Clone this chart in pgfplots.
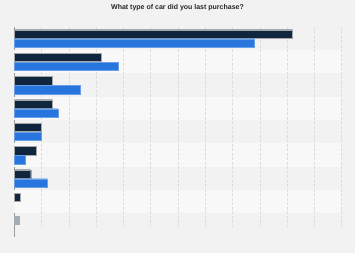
\documentclass[border=0pt]{standalone}
\usepackage{pgfplots}
\pgfplotsset{compat=1.18}
\usepackage{fontspec}
\setmainfont{Liberation Sans}
\definecolor{bgA}{HTML}{F2F2F2}
\definecolor{bgB}{HTML}{F8F8F8}
\definecolor{navy}{HTML}{10263F}
\definecolor{sblue}{HTML}{2876DD}
\definecolor{gridc}{HTML}{DDDDDD}
\definecolor{fadegray}{HTML}{A3ABB3}
\begin{document}
\begin{tikzpicture}[x=1pt,y=1pt]
\fill[bgA] (0,0) rectangle (355,253);
\node[font=\bfseries\fontsize{7}{8}\selectfont, text=black!85] at (177.5,245) {What type of car did you last purchase?};
\begin{axis}[
  at={(14.3pt,16.3pt)}, anchor=south west,
  scale only axis, width=327.4pt, height=210pt,
  xmin=0, xmax=60, ymin=-0.5, ymax=8.5, y dir=reverse,
  xbar, bar width=8.6pt,
  axis x line=none,
  axis y line*=left,
  y axis line style={draw=gray!80, line width=0.8pt, -},
  ytick=\empty, xtick={5,10,...,60},
  clip=false,
]
\pgfplotsinvokeforeach{1,3,5,7}{
  \fill[bgB] (axis cs:0,#1-0.5) rectangle (axis cs:60,#1+0.5);
}
\pgfplotsinvokeforeach{5,10,...,60}{
  \draw[gridc, dash pattern=on 3pt off 1.5pt, line width=0.5pt] (axis cs:#1,-0.5) -- (axis cs:#1,8.1);
}
\addplot[fill=navy, draw=gray!70, line width=0.3pt, bar shift=4.4pt] coordinates {
 (51,0) (16,1) (7,2) (7,3) (5,4) (4,5) (3,6) (1,7)};
\addplot[fill=sblue, draw=sblue!70, line width=0.3pt, bar shift=-4.6pt] coordinates {
 (44,0) (19,1) (12,2) (8,3) (5,4) (2,5) (6,6)};
\addplot[fill=fadegray, draw=none, bar shift=4.4pt] coordinates {(1,8)};
\end{axis}
\end{tikzpicture}
\end{document}
